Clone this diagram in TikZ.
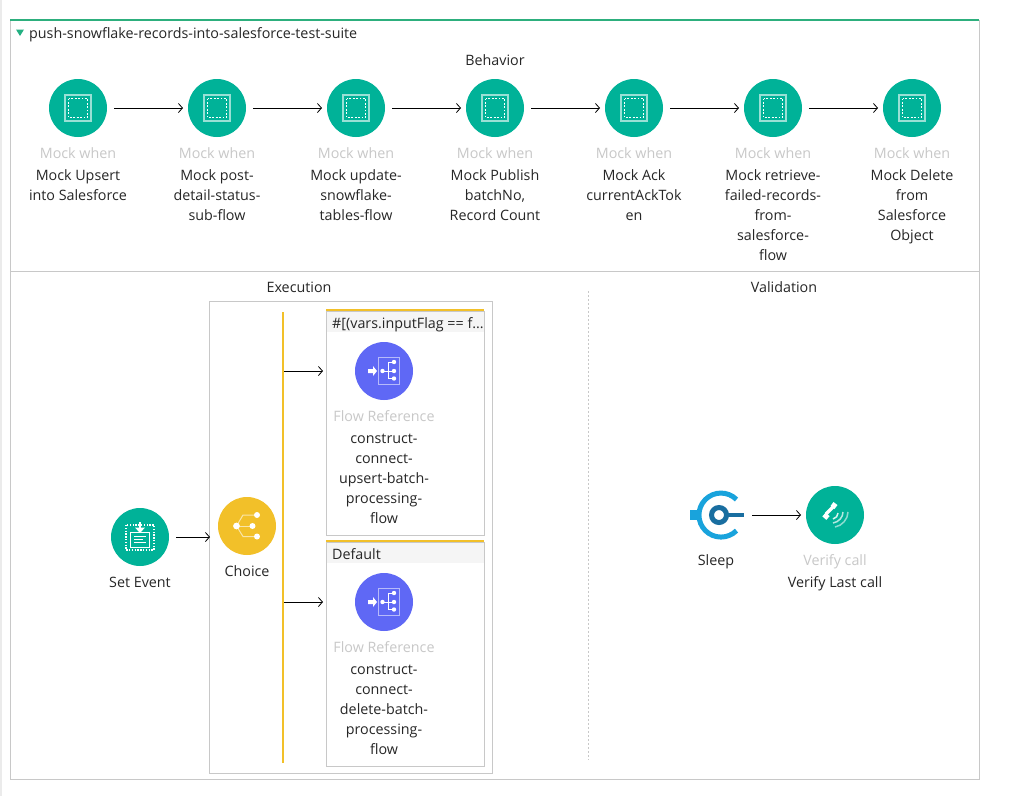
\documentclass[tikz,border=0pt]{standalone}
\usepackage{xcolor}
\usepackage{fontspec}
\setmainfont{Open Sans}
\usetikzlibrary{arrows.meta}

\definecolor{mockgreen}{RGB}{0,178,152}
\definecolor{refblue}{RGB}{95,104,245}
\definecolor{choiceyellow}{RGB}{242,192,41}
\definecolor{framegray}{RGB}{200,200,200}
\definecolor{hintgray}{RGB}{200,200,200}
\definecolor{headgray}{RGB}{245,245,245}
\definecolor{topgreen}{RGB}{45,175,125}
\definecolor{sleepblue}{RGB}{25,163,220}
\definecolor{sleepdark}{RGB}{25,110,160}

% Icons are drawn around the centre of a named node
\newcommand{\mockicon}[1]{
  \begin{scope}[shift={(#1)}]
    \draw[white, opacity=0.6, line width=1.5pt] (-13,-13) rectangle (13,13);
    \draw[white, line width=1.8pt, dash pattern=on 1.8pt off 1.6pt] (-9.5,-9.5) rectangle (9.5,9.5);
  \end{scope}
}
\newcommand{\flowicon}[1]{
  \begin{scope}[shift={(#1)}]
    \draw[white, opacity=0.55, line width=0.8pt] (-6,-13.5) rectangle (15,13.5);
    \fill[white] (-16,-2) -- (-11,-2) -- (-11,-5) -- (-7,0) -- (-11,5) -- (-11,2) -- (-16,2) -- cycle;
    \draw[white, line width=1pt] (-1.5,0) -- (10,0);
    \draw[white, line width=1pt] (10,-9) -- (4,-9) -- (4,7.5) -- (10,7.5);
    \fill[white] (-1.5,0) circle (2.2);
    \fill[white] (10,-9) circle (2.2);
    \fill[white] (10,0) circle (2.2);
    \fill[white] (10,7.5) circle (2.2);
  \end{scope}
}

\begin{document}
\begin{tikzpicture}[x=1pt, y=-1pt,
  hint/.style={font=\fontsize{14.3}{20}\selectfont, text=hintgray, inner sep=0pt, text height=11pt, text depth=3pt},
  label/.style={font=\fontsize{14.3}{20}\selectfont, text=black!85, align=center, anchor=north, inner sep=0pt},
  heading/.style={font=\fontsize{14.3}{20}\selectfont, text=black!85, inner sep=0pt, text height=11pt, text depth=3pt},
  mock/.style={circle, fill=mockgreen, minimum size=58pt, inner sep=0pt, outer sep=0pt},
  flowref/.style={circle, fill=refblue, minimum size=58pt, inner sep=0pt, outer sep=0pt},
  flow/.style={-{Straight Barb[length=4pt,width=9pt]}, black, line width=0.8pt, shorten <=7pt, shorten >=5pt},
  frame/.style={framegray, line width=0.8pt},
]
  \useasboundingbox (0,0) rectangle (1012,796);
  \fill[white] (0,0) rectangle (1012,796);
  \fill[black!8] (0,0) rectangle (2,796);

  % Outer frame and the line between the two halves
  \draw[frame] (10,20) -- (10,779) -- (979,779) -- (979,20);
  \draw[frame] (10,271) -- (979,271);
  \draw[draw=topgreen, line width=2pt] (10,19.5) -- (979,19.5);

  % Title
  \fill[topgreen!80!mockgreen] (16,29.5) -- (24,29.5) -- (20,36) -- cycle;
  \node[heading, anchor=west] (title) at (29,34) {push-snowflake-records-into-salesforce-test-suite};

  % Behavior
  \node[heading] (behavior) at (495,61) {Behavior};
  \node[mock] (mock1) at (78,108) {};
  \node[mock] (mock2) at (217,108) {};
  \node[mock] (mock3) at (356,108) {};
  \node[mock] (mock4) at (495,108) {};
  \node[mock] (mock5) at (634,108) {};
  \node[mock] (mock6) at (773,108) {};
  \node[mock] (mock7) at (912,108) {};
  \mockicon{mock1}
  \mockicon{mock2}
  \mockicon{mock3}
  \mockicon{mock4}
  \mockicon{mock5}
  \mockicon{mock6}
  \mockicon{mock7}
  \draw[flow] (mock1) -- (mock2);
  \draw[flow] (mock2) -- (mock3);
  \draw[flow] (mock3) -- (mock4);
  \draw[flow] (mock4) -- (mock5);
  \draw[flow] (mock5) -- (mock6);
  \draw[flow] (mock6) -- (mock7);

  \node[hint] (hint1) at (78,154) {Mock when};
  \node[hint] (hint2) at (217,154) {Mock when};
  \node[hint] (hint3) at (356,154) {Mock when};
  \node[hint] (hint4) at (495,154) {Mock when};
  \node[hint] (hint5) at (634,154) {Mock when};
  \node[hint] (hint6) at (773,154) {Mock when};
  \node[hint] (hint7) at (912,154) {Mock when};
  \node[label] (label1) at (78,169.5) {Mock Upsert\\into Salesforce};
  \node[label] (label2) at (217,169.5) {Mock post-\\detail-status-\\sub-flow};
  \node[label] (label3) at (356,169.5) {Mock update-\\snowflake-\\tables-flow};
  \node[label] (label4) at (495,169.5) {Mock Publish\\batchNo,\\Record Count};
  \node[label] (label5) at (634,169.5) {Mock Ack\\currentAckTok\\en};
  \node[label] (label6) at (773,169.5) {Mock retrieve-\\failed-records-\\from-\\salesforce-\\flow};
  \node[label] (label7) at (912,169.5) {Mock Delete\\from\\Salesforce\\Object};

  % Execution
  \node[heading] (execution) at (299,288) {Execution};
  \draw[frame] (209,301) rectangle (492,773);
  \node[mock] (setevent) at (140,537) {};
  \node[circle, fill=choiceyellow, minimum size=58pt, inner sep=0pt] (choice) at (247,526) {};
  \node[heading] (seteventlabel) at (140,583) {Set Event};
  \node[heading] (choicelabel) at (247,572) {Choice};
  \coordinate (choicein) at (215,537);
  \draw[flow] (setevent) -- (choicein);

  % Set Event icon
  \begin{scope}[shift={(setevent)}]
    \draw[white, line width=1.4pt, dash pattern=on 1.4pt off 1.4pt] (-14,-12) rectangle (14,13);
    \draw[white, line width=0.9pt, fill=mockgreen] (-9.5,-5) rectangle (9.5,10);
    \draw[white, line width=1.8pt] (0,-15) -- (0,-9);
    \fill[white] (-5,-9.5) -- (5,-9.5) -- (0,-4) -- cycle;
    \draw[white, line width=0.8pt] (-6,-0.5) -- (6,-0.5);
    \draw[white, line width=0.8pt] (-6,2.5) -- (3,2.5);
    \draw[white, line width=0.8pt] (-6,5.5) -- (6,5.5);
  \end{scope}

  % Choice icon
  \begin{scope}[shift={(choice)}]
    \draw[white, opacity=0.6, line width=1pt] (-10.5,0) -- (-4,-11) -- (10,-11);
    \draw[white, opacity=0.6, line width=1pt] (-10.5,0) -- (5.5,0);
    \draw[white, opacity=0.6, line width=1pt] (-10.5,0) -- (-4,10.5) -- (10,10.5);
    \fill[white] (-10.5,0) circle (3.4);
    \fill[white] (5.5,0) circle (3);
    \fill[white] (10,-11) circle (3);
    \fill[white] (10,10.5) circle (3);
  \end{scope}

  % Router line and the two routes
  \draw[draw=choiceyellow, line width=1.2pt] (283,312) -- (283,763);
  \coordinate (branch1) at (277,371);
  \coordinate (branch2) at (277,602);
  \coordinate (entry1) at (328,371);
  \coordinate (entry2) at (328,602);
  \draw[flow] (branch1) -- (entry1);
  \draw[flow] (branch2) -- (entry2);

  \fill[headgray] (326,311) rectangle (484,332);
  \draw[frame] (326,311) rectangle (484,535);
  \draw[choiceyellow, line width=1.4pt] (326,310) -- (484,310);
  \node[heading, anchor=west] (route1head) at (332,324) {\#[(vars.inputFlag == f...};

  \fill[headgray] (326,542) rectangle (484,563);
  \draw[frame] (326,542) rectangle (484,766);
  \draw[choiceyellow, line width=1.4pt] (326,541) -- (484,541);
  \node[heading, anchor=west] (route2head) at (332,555) {Default};

  \node[flowref] (ref1) at (384,371) {};
  \node[flowref] (ref2) at (384,602) {};
  \flowicon{ref1}
  \flowicon{ref2}
  \node[hint] (refhint1) at (384,417) {Flow Reference};
  \node[hint] (refhint2) at (384,648) {Flow Reference};
  \node[label] (reflabel1) at (384,433.6) {construct-\\connect-\\upsert-batch-\\processing-\\flow};
  \node[label] (reflabel2) at (384,664.6) {construct-\\connect-\\delete-batch-\\processing-\\flow};

  % Divider
  \draw[framegray, line width=0.8pt, dash pattern=on 2pt off 2pt] (588,291) -- (588,760);

  % Validation
  \node[heading] (validation) at (784,288) {Validation};
  \node[circle, minimum size=58pt, inner sep=0pt, outer sep=0pt] (sleep) at (716,515) {};
  \node[mock] (verify) at (835,515) {};
  \node[heading] (sleeplabel) at (716,561) {Sleep};
  \node[hint] (verifyhint) at (835,561.5) {Verify call};
  \node[heading] (verifylabel) at (835,583) {Verify Last call};
  \draw[flow] (sleep) -- (verify);

  % Sleep icon
  \draw[sleepblue, line width=5pt] (736.5,499.5) arc (-45:-315:22);
  \fill[sleepblue] (690,510) rectangle (698,520);
  \draw[sleepdark, line width=5pt] (719,515) circle (7.5);
  \draw[sleepdark, line width=4pt] (726,515) -- (744,515);

  % Verify icon
  \begin{scope}[shift={(verify)}]
    \draw[white, line width=3.5pt] (-9,-1) -- (-1,-9);
    \draw[white, line width=5pt] (-11,-0.5) -- (-7,3);
    \draw[white, line width=5pt] (-3,-11) -- (1,-8);
    \draw[white, opacity=0.85, line width=1.5pt] (3,-2) .. controls (3,1) and (1,3) .. (-2,4);
    \draw[white, opacity=0.7, line width=1.5pt] (8,-3) .. controls (8,2) and (4,7) .. (-2,8);
    \draw[white, opacity=0.55, line width=1.5pt] (13,-3) .. controls (13,4) and (7,11) .. (0,12);
  \end{scope}
\end{tikzpicture}
\end{document}
